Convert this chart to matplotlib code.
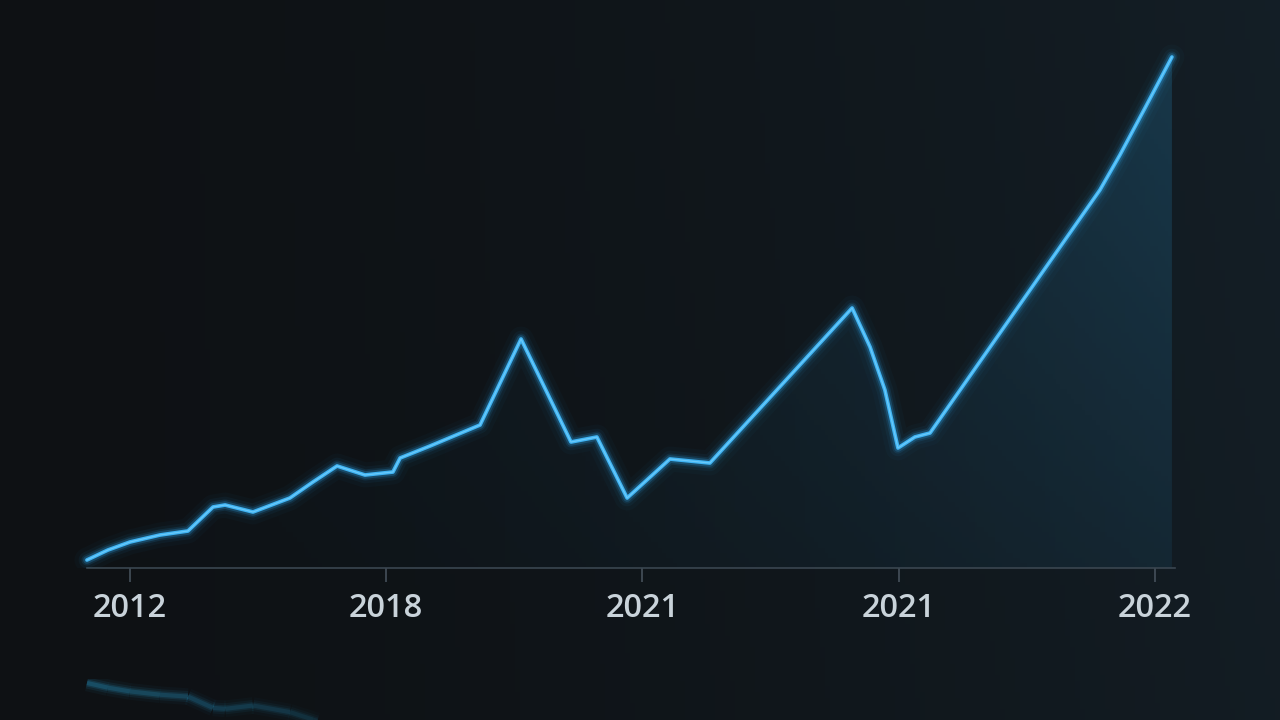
import numpy as np
import matplotlib
matplotlib.use("Agg")
import matplotlib.pyplot as plt
from matplotlib.collections import LineCollection

# line data: x in tick units (0 = first tick), value in chart units
x_pos = [-0.168, -0.086, 0.0, 0.117, 0.226, 0.324, 0.371, 0.480, 0.624, 0.714,
         0.808, 0.917, 1.026, 1.054, 1.171, 1.366, 1.526, 1.721, 1.822, 1.940,
         2.107, 2.263, 2.818, 2.888, 2.946, 2.997, 3.063, 3.122, 3.785, 3.863,
         3.961, 4.066]
values = [8, 18, 26, 33, 37, 61, 63, 56, 70, 86,
          102, 93, 96, 110, 122, 143, 229, 126, 131, 70,
          109, 105, 260, 221, 178, 120, 131, 135, 378, 413,
          460, 511]
tick_pos = [0, 1, 2, 3, 4]
tick_labels = ["2012", "2018", "2021", "2021", "2022"]

x = np.array(x_pos)
y = np.array(values)

fig = plt.figure(figsize=(12.8, 7.2), dpi=100)

# background gradient
bg = fig.add_axes([0, 0, 1, 1], zorder=0)
bg.axis("off")
gx = np.linspace(0, 1, 256)
gy = np.linspace(0, 1, 128)[:, None]
left = np.array([0.055, 0.068, 0.080])
right = np.array([0.078, 0.120, 0.150])
t = (gx ** 1.6)[None, :, None] * (0.85 + 0.15 * gy[:, :, None])
img = left + (right - left) * t
bg.imshow(img, aspect="auto", extent=[0, 1, 0, 1], origin="lower")
bg.set_xlim(0, 1)
bg.set_ylim(0, 1)

xlim = (-130 / 256.25, 1150 / 256.25)

ax = fig.add_axes([0, 1 - 568 / 720, 1, 568 / 720], zorder=2)
ax.patch.set_alpha(0)
ax.set_xlim(*xlim)
ax.set_ylim(0, 568)

# gradient fill under the line
poly = ax.fill_between(x, y, 0, color="none", lw=0)
fx = np.linspace(0, 1, 300)
fy = np.linspace(0, 1, 100)[:, None]
a = (0.05 + 0.42 * fx ** 2.0)[None, :] * (0.45 + 0.55 * fy)
rgba = np.zeros((100, 300, 4))
rgba[..., 0] = 0.12
rgba[..., 1] = 0.34
rgba[..., 2] = 0.46
rgba[..., 3] = a
im = ax.imshow(rgba, aspect="auto", extent=[x.min(), x.max(), 0, y.max()],
               origin="lower", zorder=1)
im.set_clip_path(poly.get_paths()[0], transform=ax.transData)

# glowing line
for lw, al in [(18, 0.03), (12, 0.06), (8, 0.12), (5.5, 0.25)]:
    ax.plot(x, y, color="#2a9ee0", lw=lw, alpha=al, solid_joinstyle="round",
            solid_capstyle="round", zorder=3)
ax.plot(x, y, color="#3fb4f4", lw=2.7, solid_joinstyle="round",
        solid_capstyle="round", zorder=4)
ax.plot(x, y, color="#8fdcff", lw=0.9, alpha=0.55, solid_joinstyle="round", zorder=5)

for s in ["top", "right", "left"]:
    ax.spines[s].set_visible(False)
ax.spines["bottom"].set_color("#3a4650")
ax.spines["bottom"].set_linewidth(1.2)
ax.spines["bottom"].set_bounds(x.min(), 4.078)
ax.set_yticks([])
ax.set_xticks(tick_pos)
ax.set_xticklabels(tick_labels, fontsize=23.5, fontfamily="Open Sans",
                   fontweight="semibold", color="#c9d3da")
ax.tick_params(axis="x", direction="out", length=10, width=1.1,
               color="#4a5560", pad=7)

# reflection, fading out to the right
ref = fig.add_axes([0, 0, 1, (720 - 679.2) / 720], zorder=1)
ref.axis("off")
ref.set_xlim(*xlim)
ref.set_ylim(86.8, 0)
pts = np.column_stack([x, y])
segs = np.stack([pts[:-1], pts[1:]], axis=1)
fade = np.clip(1 - (x[:-1] + 0.17) / 1.5, 0, 1)
for lw, al in [(12, 0.05), (8, 0.1), (5, 0.16), (3, 0.22)]:
    cols = np.zeros((len(segs), 4))
    cols[:, :3] = [0.16, 0.61, 0.80]
    cols[:, 3] = al * fade
    ref.add_collection(LineCollection(segs, colors=cols, linewidths=lw,
                                      capstyle="butt"))

fig.savefig("out.png", dpi=100)
